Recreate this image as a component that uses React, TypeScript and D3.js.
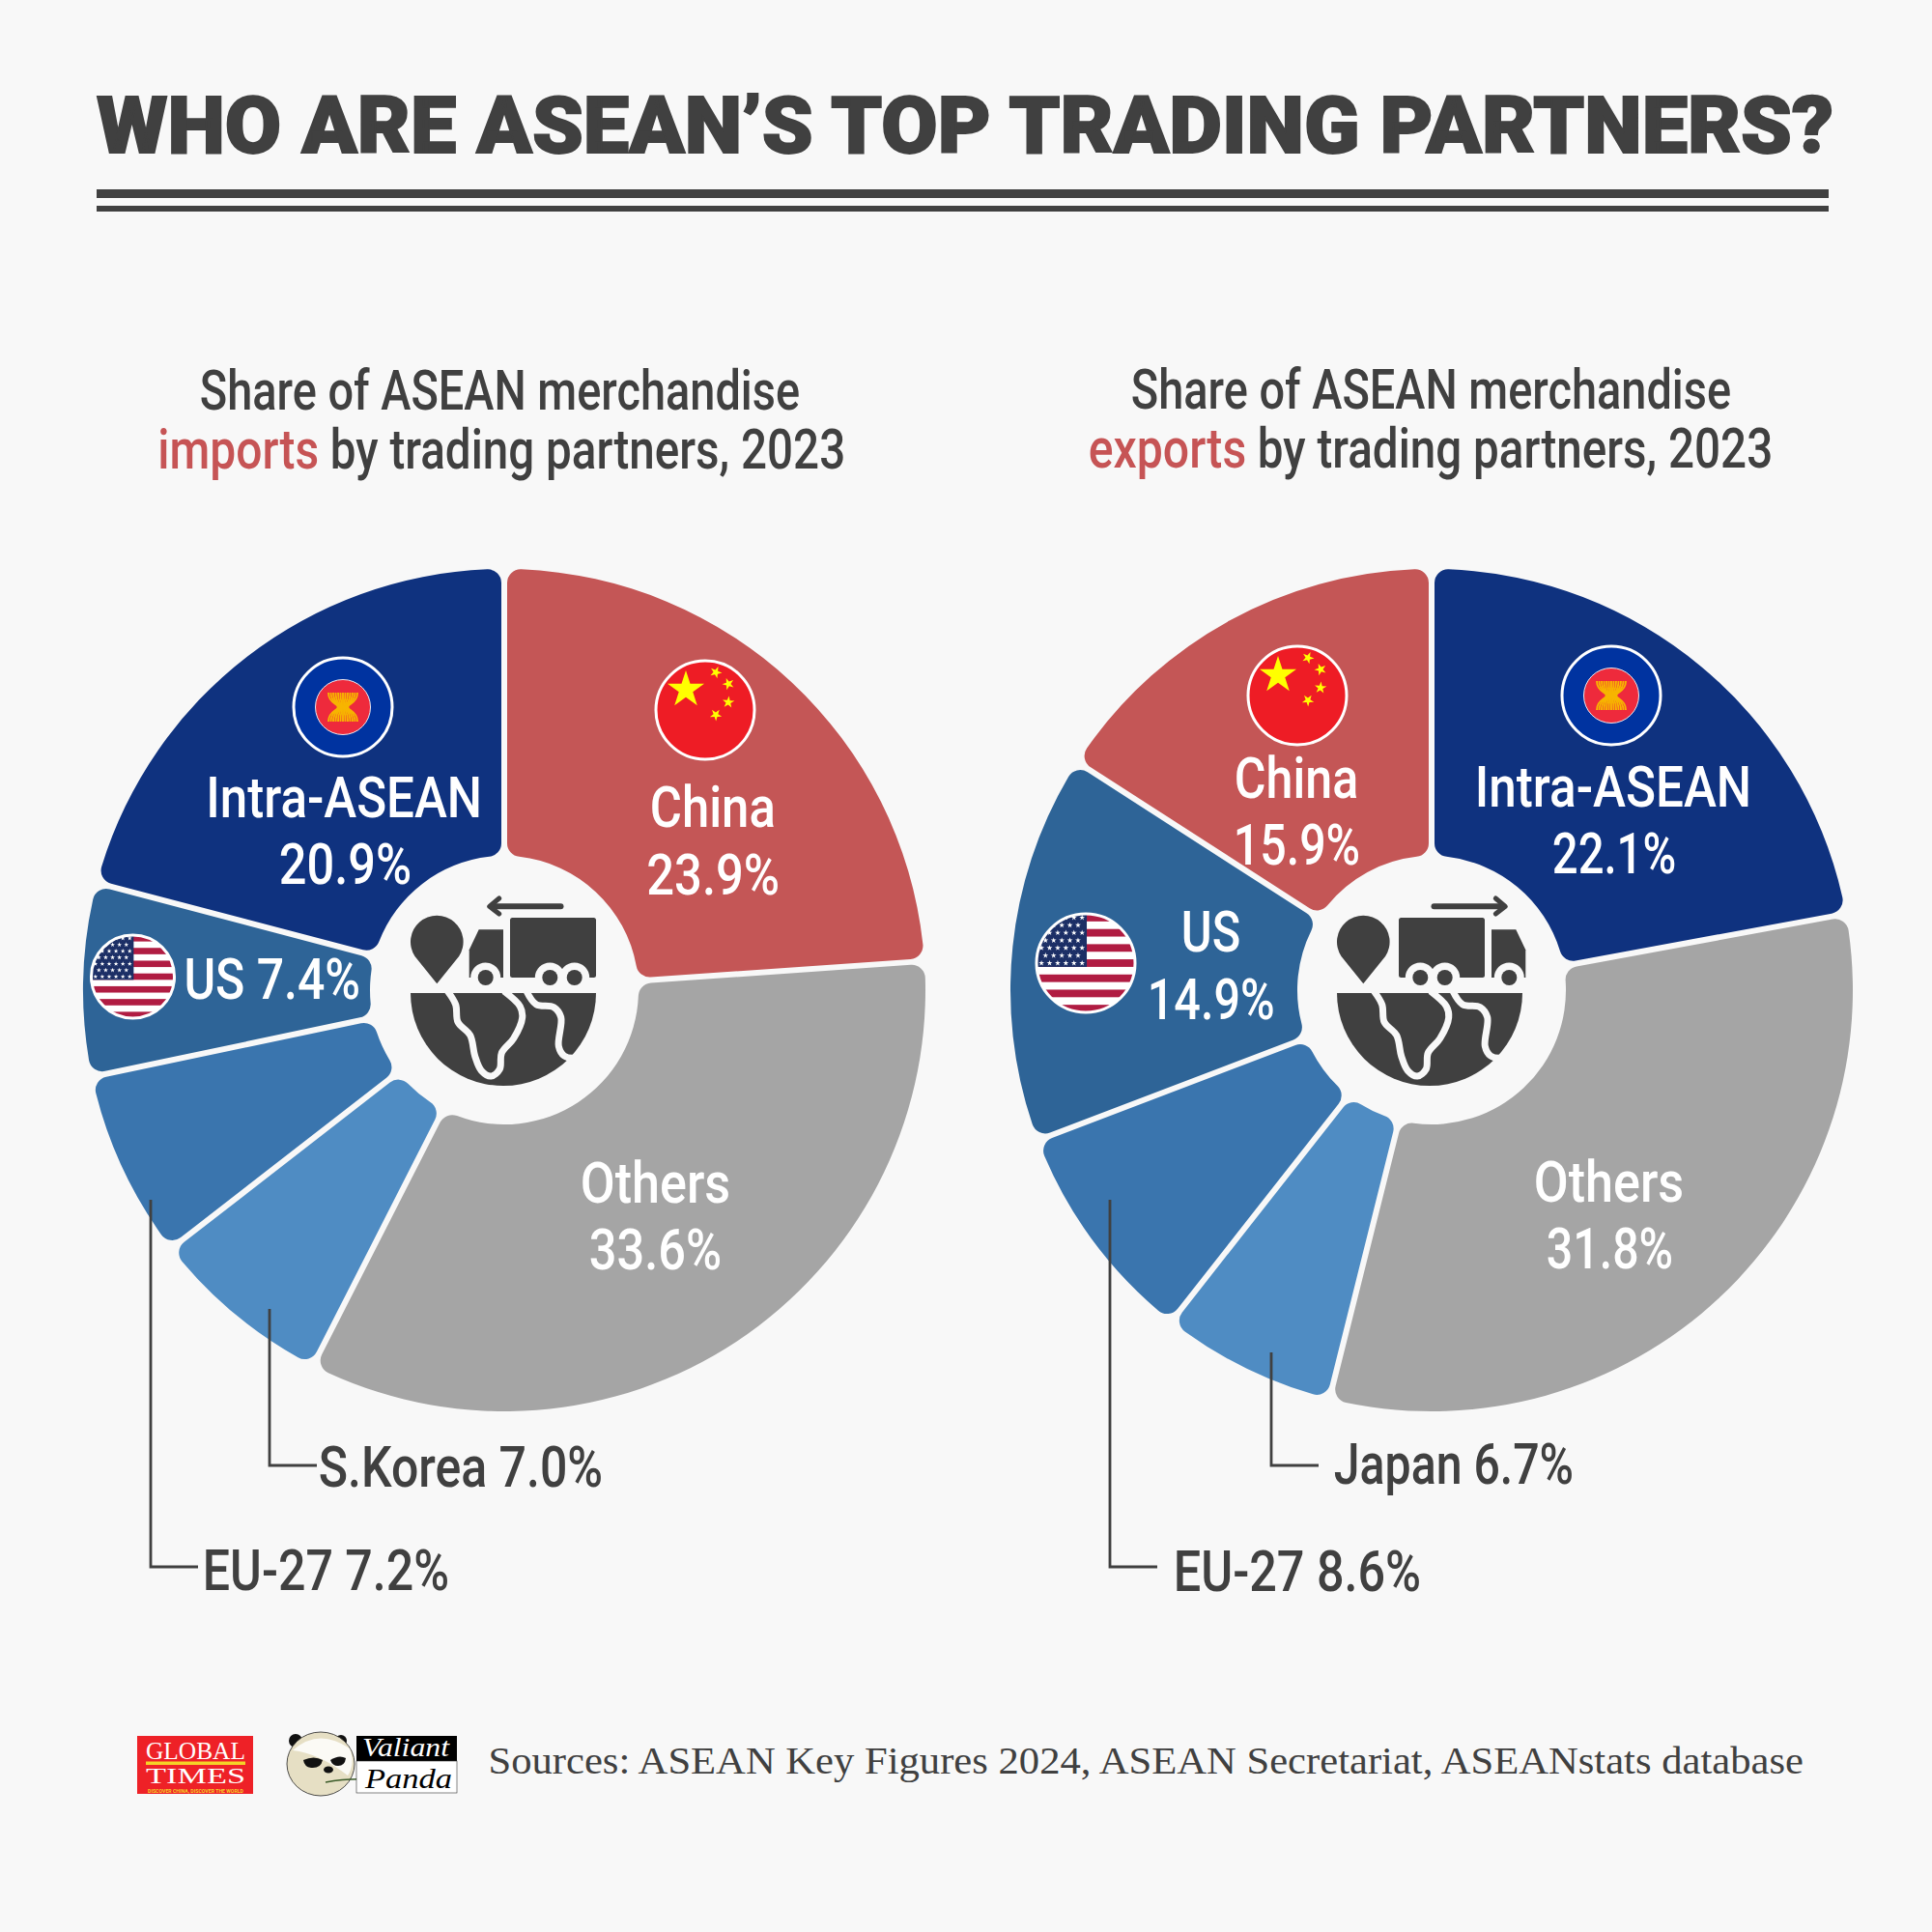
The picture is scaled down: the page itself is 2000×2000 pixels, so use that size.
import React from "react";
import * as d3 from "d3";

// ---------- data ----------
const importCategories = ["China", "Others", "S.Korea", "EU-27", "US", "Intra-ASEAN"];
const importValues = [23.9, 33.6, 7.0, 7.2, 7.4, 20.9];
const exportCategories = ["Intra-ASEAN", "Others", "Japan", "EU-27", "US", "China"];
const exportValues = [22.1, 31.8, 6.7, 8.6, 14.9, 15.9];
const partnerNames = ["China", "Intra-ASEAN", "US", "EU-27", "S.Korea", "Japan", "Others"];
const partnerColors = ["#c45656", "#0f327f", "#2e6497", "#3a75ae", "#4f8cc3", "#4f8cc3", "#a5a5a5"];

const BG = "#f8f8f8";
const INK = "#404040";
const ACCENT = "#c65455";
const BODY = "Roboto, 'Liberation Sans', sans-serif";
const SERIF = "'Liberation Serif', serif";

const colorScale = d3.scaleOrdinal<string, string>().domain(partnerNames).range(partnerColors);
const pct = (v: number) => `${v.toFixed(1)}%`;

// ---------- helpers ----------
const measureCtx = document.createElement("canvas").getContext("2d") as CanvasRenderingContext2D;

function Fit({ x0, x1, y, size, fill = INK, weight = 400, family = BODY, italic = false, bearing, stroke, children }: any) {
  const pad = bearing ?? (size >= 50 && size < 80 ? 2.2 : 0);
  const str = String(children);
  measureCtx.font = `${italic ? "italic " : ""}${weight} ${size}px ${family}`;
  const natural = measureCtx.measureText(str).width || 1;
  const sx = (x1 - x0 + 2 * pad) / natural;
  return (
    <text
      transform={`translate(${x0 - pad},${y}) scale(${sx},1)`}
      fontSize={size}
      fontFamily={family}
      fontWeight={weight}
      fontStyle={italic ? "italic" : "normal"}
      fill={fill}
      stroke={stroke}
      strokeWidth={stroke ? 1.8 : undefined}
    >
      {str}
    </text>
  );
}

function starPath(cx: number, cy: number, R: number, rot = 0) {
  const pts: [number, number][] = [];
  for (let i = 0; i < 10; i++) {
    const a = rot - Math.PI / 2 + (i * Math.PI) / 5;
    const rad = i % 2 === 0 ? R : R * 0.382;
    pts.push([cx + rad * Math.cos(a), cy + rad * Math.sin(a)]);
  }
  return "M" + pts.map((p) => p.join(",")).join("L") + "Z";
}

function ChinaFlag({ x, y }: any) {
  const small: [number, number, number][] = [
    [11, -39, 0.4],
    [24, -27, 0.9],
    [24, -8, 0.1],
    [11, 5, 0.6],
  ];
  return (
    <g transform={`translate(${x},${y})`}>
      <circle r={51} fill="#ee1c25" stroke="#fff" strokeWidth={3} />
      <path d={starPath(-20, -21, 20)} fill="#ffff00" />
      {small.map(([a, b, r], i) => (
        <path key={i} d={starPath(a, b, 6.5, r)} fill="#ffff00" />
      ))}
    </g>
  );
}

function AseanFlag({ x, y }: any) {
  const strands = d3.range(13).map((i) => -15 + (i * 30) / 12);
  return (
    <g transform={`translate(${x},${y})`}>
      <circle r={51} fill="#0033a0" stroke="#fff" strokeWidth={3} />
      <circle r={28.5} fill="#ee2a3c" stroke="#e8e8f0" strokeWidth={1} />
      {strands.map((s, i) => (
        <path
          key={i}
          d={`M${s},-15 C${s},-4 ${s * 0.35},-4 ${s * 0.35},0 C${s * 0.35},4 ${s},4 ${s},15`}
          fill="none"
          stroke="#f7b500"
          strokeWidth={1.9}
        />
      ))}
    </g>
  );
}

function USFlag({ x, y, r, id }: any) {
  const stripes = d3.range(13);
  const h = (2 * r) / 13;
  const rows = d3.range(7);
  return (
    <g transform={`translate(${x},${y})`}>
      <clipPath id={id}>
        <circle r={r} />
      </clipPath>
      <g clipPath={`url(#${id})`}>
        <rect x={-r} y={-r} width={2 * r} height={2 * r} fill="#fff" />
        {stripes
          .filter((i) => i % 2 === 0)
          .map((i) => (
            <rect key={i} x={-r} y={-r + i * h} width={2 * r} height={h} fill="#b01c42" />
          ))}
        <rect x={-r} y={-r} width={r * 1.02} height={h * 7} fill="#1c2f66" />
        {rows.map((row) =>
          d3.range(row % 2 === 0 ? 6 : 5).map((c) => (
            <path
              key={`${row}-${c}`}
              d={starPath(-r + r * 0.1 + (c + (row % 2 === 0 ? 0 : 0.5)) * r * 0.165, -r + h * 0.5 + row * h, r * 0.06)}
              fill="#fff"
            />
          ))
        )}
      </g>
      <circle r={r} fill="none" stroke="#fff" strokeWidth={3} />
    </g>
  );
}

const riverLine = d3.line().curve(d3.curveCatmullRom);
const continentA: [number, number][] = [
  [-57.7, -2], [-49.3, 12], [-47, 30], [-34.3, 43.7], [-29.3, 65.3], [-22.7, 80.3], [-12.7, 86],
  [-3.7, 78.7], [-1.7, 62], [10.7, 47], [19.7, 25.3], [17.3, 13.7], [0.7, -2],
];
const continentB: [number, number][] = [
  [24, -2], [34, 11.7], [52.3, 14.7], [59.7, 25], [57.3, 55], [63, 65], [75, 67], [88, 60],
];

function LogisticsIcon({ x, y, flip }: any) {
  const truckT = flip ? "translate(64,0) scale(-1,1)" : "";
  return (
    <g transform={`translate(${x},${y})`} fill={INK}>
      <path d="M-68.7,-9.7 L-91.5,-38 A27.3,27.3 0 1 1 -45.9,-38 Z" />
      <g transform={truckT}>
        <rect x={7} y={-78} width={89} height={62} rx={2.5} />
        <path d="M-35.3,-16 V-44.7 L-25.3,-65.7 H0 V-16 Z" />
        {[-18.3, 48.3, 73.7].map((w) => (
          <g key={w}>
            <circle cx={w} cy={-16} r={15.5} fill={BG} />
            <circle cx={w} cy={-16} r={8} />
          </g>
        ))}
        <path d="M-12,-89.7 H59.5" stroke={INK} strokeWidth={6} strokeLinecap="round" fill="none" />
        <path d="M-4.3,-98 L-14.3,-89.7 L-4.3,-82" stroke={INK} strokeWidth={5} strokeLinecap="round" strokeLinejoin="round" fill="none" />
      </g>
      <path d="M-96,0 H96 A96,96 0 0 1 -96,0 Z" />
      <path d={riverLine(continentA) as string} fill="none" stroke={BG} strokeWidth={7} />
      <path d={riverLine(continentB) as string} fill="none" stroke={BG} strokeWidth={7} />
    </g>
  );
}

function Donut({ categories, values, cx, cy }: any) {
  const pie = d3.pie<number>().sort(null).value((d) => d);
  const R = 436;
  const arc = d3
    .arc<d3.PieArcDatum<number>>()
    .innerRadius(139)
    .outerRadius(R)
    .cornerRadius(14)
    .padRadius(R)
    .padAngle(6 / R);
  return (
    <g transform={`translate(${cx},${cy})`}>
      {pie(values).map((p, i) => (
        <path key={categories[i]} d={arc(p) as string} fill={colorScale(categories[i])} />
      ))}
    </g>
  );
}

function Leader({ x, y0, y1, x1 }: any) {
  return (
    <path d={`M${x},${y0} V${y1} H${x1}`} fill="none" stroke={INK} strokeWidth={2.8} />
  );
}

const LABEL = 60;

function PandaLogo() {
  return (
    <g>
      <circle cx={306} cy={1802} r={7} fill="#111" />
      <circle cx={353} cy={1802} r={6} fill="#111" />
      <ellipse cx={332} cy={1826} rx={35} ry={33} fill="#e6dfc4" stroke="#222" strokeWidth={0.8} />
      <path d="M303,1812 Q330,1788 362,1810 Q368,1826 360,1838 Q330,1815 303,1812Z" fill="#fbfaf5" />
      <path d="M314,1822 Q325,1817 334,1822 Q332,1831 322,1830 Q315,1829 314,1822Z" fill="#111" />
      <path d="M342,1822 Q351,1816 358,1820 Q357,1828 350,1828 Q344,1828 342,1822Z" fill="#111" />
      <ellipse cx={340} cy={1832} rx={5} ry={3.5} fill="#111" />
      <path d="M337,1845 Q358,1841 381,1842" stroke="#3a5a28" strokeWidth={1.6} fill="none" />
      <rect x={369} y={1797} width={104} height={26} fill="#000" />
      <rect x={369} y={1823} width={104} height={33} fill="#fff" stroke="#333" strokeWidth={0.6} />
      <Fit x0={375} x1={465} y={1818} size={28} fill="#fff" family={SERIF} italic>Valiant</Fit>
      <Fit x0={378} x1={468} y={1851} size={30} fill="#000" family={SERIF} italic>Panda</Fit>
    </g>
  );
}

function GlobalTimesLogo() {
  return (
    <g>
      <rect x={142} y={1797} width={120} height={60} fill="#ee2127" />
      <Fit x0={151} x1={254} y={1821} size={25} fill="#fff" family={SERIF}>GLOBAL</Fit>
      <rect x={151} y={1823.5} width={103} height={3.5} fill="#f5d327" />
      <Fit x0={151} x1={254} y={1845.5} size={23} fill="#fff" family={SERIF}>TIMES</Fit>
      <Fit x0={153} x1={252} y={1855.5} size={4.6} fill="#f5d327" weight={700}>DISCOVER CHINA, DISCOVER THE WORLD</Fit>
    </g>
  );
}

export default function App() {
  const iv = (n: string) => importValues[importCategories.indexOf(n)];
  const ev = (n: string) => exportValues[exportCategories.indexOf(n)];
  return (
    <svg width={2000} height={2000} viewBox="0 0 2000 2000" style={{ position: "absolute", left: 0, top: 0 }}>
      <rect width={2000} height={2000} fill={BG} />

      {/* title */}
      <Fit x0={100} x1={1903.5} y={158} size={82} weight={900} stroke={INK}>WHO ARE ASEAN’S TOP TRADING PARTNERS?</Fit>
      <rect x={100} y={196} width={1793} height={9} fill={INK} />
      <rect x={100} y={213} width={1793} height={6} fill={INK} />

      {/* sub-titles */}
      <Fit x0={209} x1={826} y={424} size={57} weight={500}>Share of ASEAN merchandise</Fit>
      <Fit x0={165.5} x1={328} y={485} size={57} fill={ACCENT} weight={500}>imports</Fit>
      <Fit x0={344} x1={873} y={485} size={57} weight={500}>by trading partners, 2023</Fit>
      <Fit x0={1173} x1={1790} y={422.5} size={57} weight={500}>Share of ASEAN merchandise</Fit>
      <Fit x0={1129} x1={1288} y={483.5} size={57} fill={ACCENT} weight={500}>exports</Fit>
      <Fit x0={1304} x1={1833} y={483.5} size={57} weight={500}>by trading partners, 2023</Fit>

      {/* donuts */}
      <Donut categories={importCategories} values={importValues} cx={522} cy={1025} />
      <Donut categories={exportCategories} values={exportValues} cx={1482} cy={1025} />
      <LogisticsIcon x={521} y={1028} flip={false} />
      <LogisticsIcon x={1480} y={1028} flip={true} />

      {/* leaders */}
      <Leader x={156} y0={1242} y1={1622} x1={205} />
      <Leader x={279} y0={1355} y1={1517} x1={328} />
      <Leader x={1149} y0={1242} y1={1622} x1={1198} />
      <Leader x={1316} y0={1400} y1={1517} x1={1365} />

      {/* flags */}
      <AseanFlag x={355} y={732} />
      <ChinaFlag x={730} y={735} />
      <USFlag x={137.5} y={1011} r={43} id="usL" />
      <ChinaFlag x={1343} y={720} />
      <AseanFlag x={1668} y={720} />
      <USFlag x={1124} y={997} r={51} id="usR" />

      {/* import labels */}
      <Fit x0={215.5} x1={497} y={846} size={LABEL} fill="#fff" weight={500}>Intra-ASEAN</Fit>
      <Fit x0={291} x1={424} y={915} size={LABEL} fill="#fff" weight={500}>{pct(iv("Intra-ASEAN"))}</Fit>
      <Fit x0={675} x1={800.6} y={856} size={LABEL} fill="#fff" weight={500}>China</Fit>
      <Fit x0={671.5} x1={805} y={925.6} size={LABEL} fill="#fff" weight={500}>{pct(iv("China"))}</Fit>
      <Fit x0={603} x1={754} y={1245} size={LABEL} fill="#fff" weight={500}>Others</Fit>
      <Fit x0={612} x1={745} y={1314} size={LABEL} fill="#fff" weight={500}>{pct(iv("Others"))}</Fit>
      <Fit x0={192.6} x1={371} y={1034} size={LABEL} fill="#fff" weight={500}>{`US ${pct(iv("US"))}`}</Fit>
      <Fit x0={332} x1={622} y={1539} size={LABEL} weight={500}>{`S.Korea ${pct(iv("S.Korea"))}`}</Fit>
      <Fit x0={212} x1={463} y={1646} size={LABEL} weight={500}>{`EU-27 ${pct(iv("EU-27"))}`}</Fit>

      {/* export labels */}
      <Fit x0={1529} x1={1811} y={835} size={LABEL} fill="#fff" weight={500}>Intra-ASEAN</Fit>
      <Fit x0={1609} x1={1733} y={904} size={LABEL} fill="#fff" weight={500}>{pct(ev("Intra-ASEAN"))}</Fit>
      <Fit x0={1280} x1={1404} y={826} size={LABEL} fill="#fff" weight={500}>China</Fit>
      <Fit x0={1279} x1={1406} y={894.5} size={LABEL} fill="#fff" weight={500}>{pct(ev("China"))}</Fit>
      <Fit x0={1225} x1={1282} y={985} size={LABEL} fill="#fff" weight={500}>US</Fit>
      <Fit x0={1190} x1={1317.5} y={1055} size={LABEL} fill="#fff" weight={500}>{pct(ev("US"))}</Fit>
      <Fit x0={1590} x1={1741} y={1244} size={LABEL} fill="#fff" weight={500}>Others</Fit>
      <Fit x0={1603} x1={1730} y={1313} size={LABEL} fill="#fff" weight={500}>{pct(ev("Others"))}</Fit>
      <Fit x0={1383} x1={1627} y={1536} size={LABEL} weight={500}>{`Japan ${pct(ev("Japan"))}`}</Fit>
      <Fit x0={1217} x1={1469} y={1647} size={LABEL} weight={500}>{`EU-27 ${pct(ev("EU-27"))}`}</Fit>

      {/* footer */}
      <GlobalTimesLogo />
      <PandaLogo />
      <Fit x0={505.5} x1={1874.3} y={1836} size={40} family={SERIF}>Sources: ASEAN Key Figures 2024, ASEAN Secretariat, ASEANstats database</Fit>
    </svg>
  );
}
